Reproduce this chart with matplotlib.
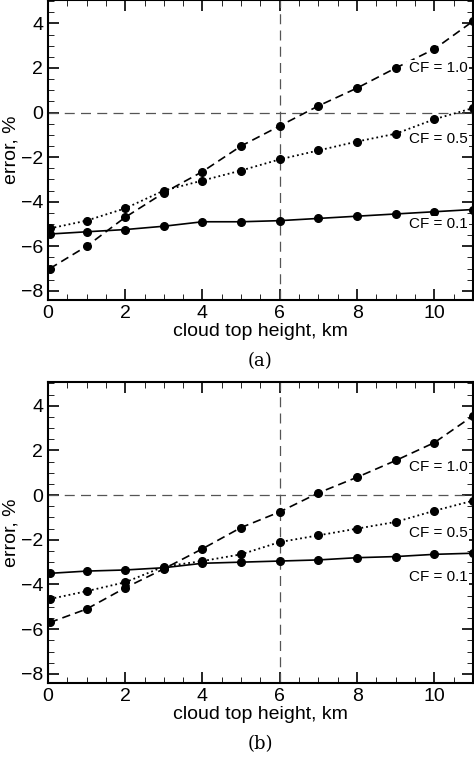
import numpy as np
import matplotlib.pyplot as plt
from matplotlib.ticker import MultipleLocator

plt.rcParams['font.family'] = ['Liberation Sans', 'DejaVu Sans']

height = [0.05, 1, 2, 3, 4, 5, 6, 7, 8, 9, 10, 11]

# panel (a)
a_cf10 = [-7.0, -6.0, -4.7, -3.6, -2.65, -1.5, -0.6, 0.3, 1.1, 2.0, 2.85, 4.1]
a_cf05 = [-5.2, -4.85, -4.3, -3.5, -3.05, -2.6, -2.1, -1.7, -1.3, -0.95, -0.3, 0.2]
a_cf01 = [-5.45, -5.35, -5.25, -5.1, -4.9, -4.9, -4.85, -4.75, -4.65, -4.55, -4.45, -4.35]
# panel (b)
b_cf10 = [-5.7, -5.1, -4.15, -3.3, -2.4, -1.45, -0.75, 0.1, 0.8, 1.55, 2.35, 3.55]
b_cf05 = [-4.65, -4.3, -3.9, -3.2, -2.95, -2.65, -2.1, -1.8, -1.5, -1.2, -0.7, -0.25]
b_cf01 = [-3.5, -3.4, -3.35, -3.25, -3.05, -3.0, -2.95, -2.9, -2.8, -2.75, -2.65, -2.6]

labels = ['CF = 1.0', 'CF = 0.5', 'CF = 0.1']
label_y_a = [2.0, -1.2, -5.0]
label_y_b = [1.25, -1.7, -3.65]

fig = plt.figure(figsize=(4.74, 7.57), dpi=100)
ax1 = fig.add_axes([0.101, 0.604, 0.897, 0.396])
ax2 = fig.add_axes([0.101, 0.098, 0.897, 0.397])

def panel(ax, s10, s05, s01, ly, cap):
    ax.axhline(0, color='#555555', ls=(0, (8, 5)), lw=0.9)
    ax.axvline(6, color='#555555', ls=(0, (8, 5)), lw=0.9)
    ax.plot(height, s10, 'k--', marker='o', ms=5.5, lw=1.2, dashes=(5, 3))
    ax.plot(height, s05, 'k:', marker='o', ms=5.5, lw=1.3)
    ax.plot(height, s01, 'k-', marker='o', ms=5.5, lw=1.2)
    for t, y in zip(labels, ly):
        ax.text(10.85, y, t, ha='right', va='center', fontsize=11,
                bbox=dict(fc='white', ec='none', pad=1))
    ax.set_xlim(0, 11)
    ax.set_ylim(-8.4, 5.05)
    ax.xaxis.set_major_locator(MultipleLocator(2))
    ax.xaxis.set_minor_locator(MultipleLocator(0.5))
    ax.yaxis.set_major_locator(MultipleLocator(2))
    ax.yaxis.set_minor_locator(MultipleLocator(0.5))
    ax.tick_params(which='both', direction='in', top=True, right=True, labelsize=14)
    ax.tick_params(which='major', length=8, width=1.2)
    ax.tick_params(which='minor', length=4)
    for sp in ax.spines.values():
        sp.set_linewidth(1.5)
    ax.set_xlabel('cloud top height, km', fontsize=14, labelpad=1)
    ax.set_ylabel('error, %', fontsize=14, labelpad=1)
    ax.text(0.5, -0.205, cap, transform=ax.transAxes, ha='center', va='center',
            fontsize=13, family='DejaVu Serif')

panel(ax1, a_cf10, a_cf05, a_cf01, label_y_a, '(a)')
panel(ax2, b_cf10, b_cf05, b_cf01, label_y_b, '(b)')

fig.savefig('out.png', dpi=100)
